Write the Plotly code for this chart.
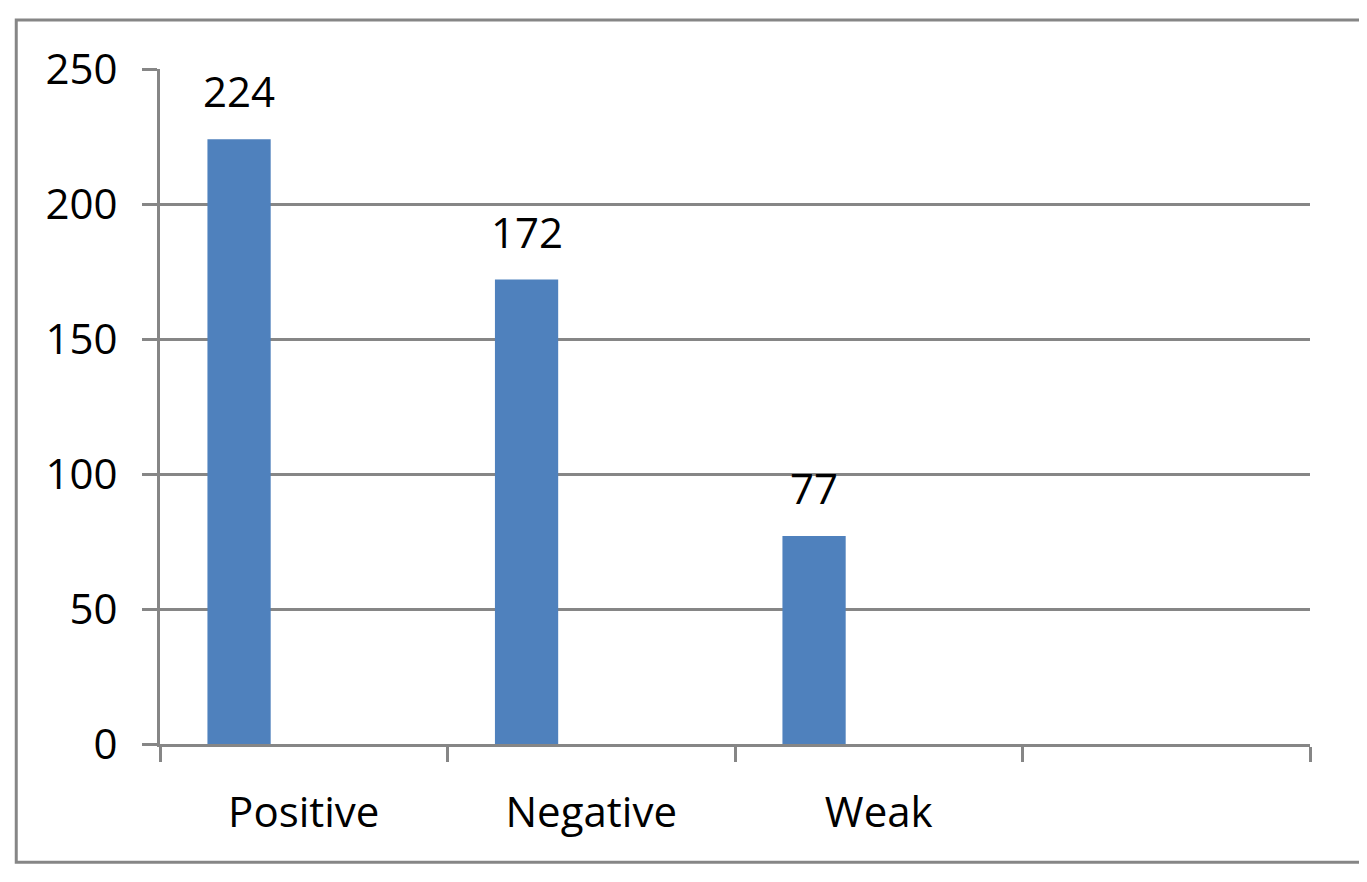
import plotly.graph_objects as go

categories = ["Positive", "Negative", "Weak", " "]
counts = [224, 172, 77, None]
labels = ["224", "172", "77", ""]
y_ticks = [0, 50, 100, 150, 200, 250]

bar_width = 0.22
bar_offset = -0.335

fig = go.Figure()
fig.add_trace(go.Bar(
    x=categories,
    y=counts,
    marker=dict(color="#4F81BD", line=dict(width=0)),
    width=bar_width,
    offset=bar_offset,
))

# value labels above bars (Excel style gap)
for i, (v, t) in enumerate(zip(counts, labels)):
    if v is None:
        continue
    fig.add_annotation(
        x=i + bar_offset + bar_width / 2, y=v, text=t,
        showarrow=False, yanchor="bottom", yshift=18,
        font=dict(size=42, color="black"),
    )

axis_gray = "#868686"
fig.update_layout(
    width=1359,
    height=874,
    margin=dict(l=152, r=57, t=61, b=138),
    paper_bgcolor="white",
    plot_bgcolor="white",
    font=dict(family="Open Sans", size=42, color="black"),
    showlegend=False,
    xaxis=dict(
        type="category",
        categoryorder="array",
        categoryarray=categories,
        range=[-0.5, 3.5],
        tickson="boundaries",
        ticks="outside",
        ticklen=15,
        tickwidth=3,
        tickcolor=axis_gray,
        showline=True,
        linecolor=axis_gray,
        linewidth=3,
        showgrid=False,
        ticklabelstandoff=30,
        tickfont=dict(size=42),
    ),
    yaxis=dict(
        range=[0, 250],
        tickvals=y_ticks,
        ticks="outside",
        ticklen=15,
        tickwidth=3,
        tickcolor=axis_gray,
        showline=True,
        linecolor=axis_gray,
        linewidth=3,
        showgrid=True,
        gridcolor=axis_gray,
        gridwidth=3,
        zeroline=False,
        ticklabelstandoff=16,
        tickfont=dict(size=42),
    ),
)

# outer chart border
fig.add_shape(
    type="rect", xref="paper", yref="paper",
    x0=-0.125, x1=1.046, y0=-0.175, y1=1.0726,
    line=dict(color=axis_gray, width=3),
    layer="below",
)

fig.write_html("out.html")
